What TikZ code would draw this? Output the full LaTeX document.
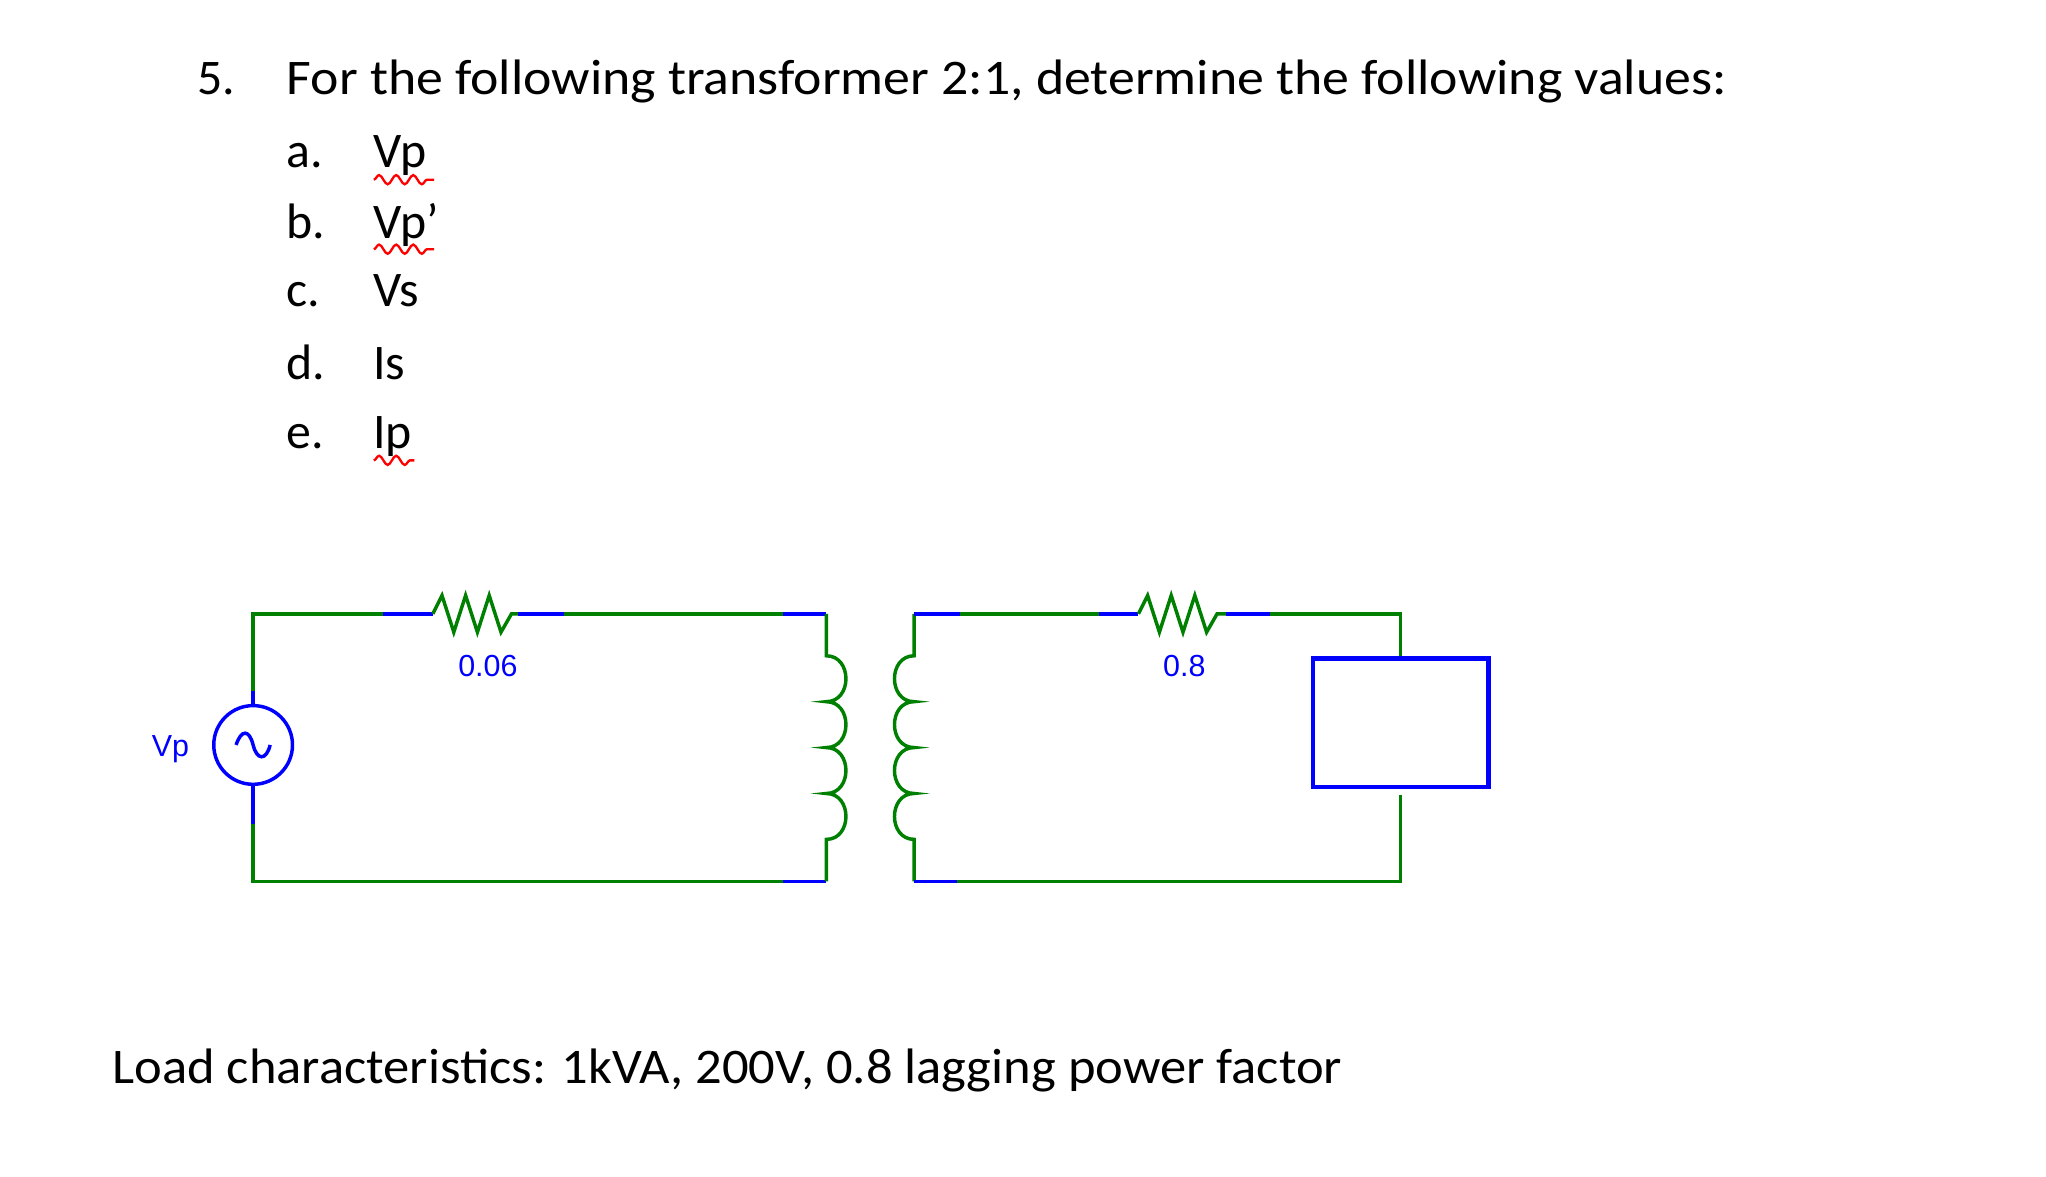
\documentclass[tikz,border=0pt]{standalone}
\usepackage{fontspec}
\setmainfont{Carlito}
\newfontfamily\lab{Liberation Sans}
\usetikzlibrary{decorations.pathmorphing}
\definecolor{wg}{RGB}{0,128,0}
\definecolor{wb}{RGB}{0,0,255}
\tikzset{
  gw/.style={draw=wg,line width=0.75pt},
  bw/.style={draw=wb,line width=0.75pt},
  txt/.style={anchor=base west,inner sep=0,font=\fontsize{10.8}{12}\selectfont},
  lbl/.style={inner sep=0,text=wb,font=\lab\fontsize{6.6}{8}\selectfont},
  squig/.style={draw=red,line width=0.5pt,decorate,decoration={snake,segment length=1.3mm,amplitude=0.35mm}}
}
\begin{document}
\begin{tikzpicture}[x=0.01cm,y=-0.01cm]
\useasboundingbox (0,0) rectangle (1560,897);
% text
\node[txt] (n5) at (150,72) {5.};
\node[txt] (q) at (218,72) {\scalebox{1.08}[1]{For the following transformer 2:1, determine the following values:}};
\node[txt] (la) at (218,128) {a.}; \node[txt] (va) at (284,128) {Vp};
\node[txt] (lb) at (218,182) {b.}; \node[txt] (vb) at (284,182) {Vp’};
\node[txt] (lc) at (218,234) {c.}; \node[txt] (vc) at (284,234) {Vs};
\node[txt] (ld) at (218,289) {d.}; \node[txt] (vd) at (284,289) {Is};
\node[txt] (le) at (218,342) {e.}; \node[txt] (ve) at (284,342) {Ip};
\draw[squig] (285,137) -- (331,137);
\draw[squig] (285,190) -- (331,190);
\draw[squig] (285,351) -- (316,351);
\node[txt] (load) at (85,826) {\scalebox{1.055}[1]{Load characteristics: 1kVA, 200V, 0.8 lagging power factor}};
% primary
\node[draw=wb,line width=0.75pt,circle,inner sep=0,minimum size=0.6cm] (src) at (193,568) {};
\draw[wb,line width=0.75pt] (180,568) .. controls (184,556) and (190,556) .. (193,568) .. controls (196,580) and (203,580) .. (206,568);
\node[lbl] (vpl) at (130,571) {Vp};
\draw[gw] (193,527) -- (193,468) -- (292,468);
\draw[bw] (292,468) -- (330,468);
\draw[gw] (330,468) -- (337,454) -- (346,482) -- (355,454) -- (364,482) -- (373,454) -- (382,482) -- (390,468) -- (395,468);
\draw[bw] (395,468) -- (430,468);
\draw[gw] (430,468) -- (597,468);
\draw[bw] (597,468) -- (630,468);
\draw[bw] (193,527) -- (src.north);
\draw[bw] (src.south) -- (193,628);
\draw[gw] (193,628) -- (193,672) -- (597,672);
\draw[bw] (597,672) -- (630,672);
\node[lbl] (r1) at (372,508) {0.06};
\draw[gw] (630,468) -- (630,500)
  .. controls (650,500) and (650,535) .. (630,535)
  .. controls (650,535) and (650,570) .. (630,570)
  .. controls (650,570) and (650,605) .. (630,605)
  .. controls (650,605) and (650,640) .. (630,640) -- (630,672);
% secondary
\draw[gw] (697,672) -- (697,640)
  .. controls (677,640) and (677,605) .. (697,605)
  .. controls (677,605) and (677,570) .. (697,570)
  .. controls (677,570) and (677,535) .. (697,535)
  .. controls (677,535) and (677,500) .. (697,500) -- (697,468);
\draw[bw] (697,468) -- (732,468);
\draw[gw] (732,468) -- (838,468);
\draw[bw] (838,468) -- (868,468);
\draw[gw] (868,468) -- (875,454) -- (884,482) -- (893,454) -- (902,482) -- (911,454) -- (920,482) -- (928,468) -- (935,468);
\draw[bw] (935,468) -- (968,468);
\draw[gw] (968,468) -- (1068,468) -- (1068,502);
\node[lbl] (r2) at (903,508) {0.8};
\node[draw=wb,line width=1pt,minimum width=1.34cm,minimum height=0.98cm,inner sep=0] (ld2) at (1068,551) {};
\draw[gw] (1068,606) -- (1068,672) -- (730,672);
\draw[bw] (730,672) -- (697,672);
\end{tikzpicture}
\end{document}
